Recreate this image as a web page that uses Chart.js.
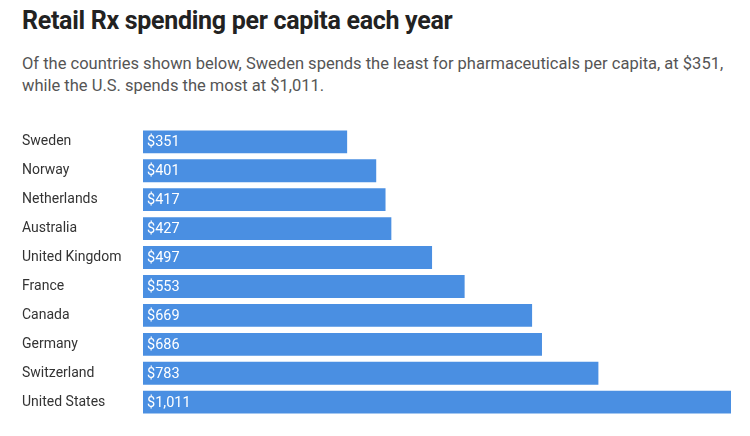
<!DOCTYPE html>
<html><head><meta charset="utf-8">
<script src="https://cdn.jsdelivr.net/npm/chart.js@4"></script>
<style>
body{margin:0;width:750px;height:436px;background:#fff;font-family:Roboto,sans-serif;position:relative;overflow:hidden}
h1{position:absolute;left:22px;top:6px;margin:0;font-size:25px;font-weight:700;color:#222;letter-spacing:-0.3px}
p{position:absolute;left:22px;top:53px;margin:0;width:720px;font-size:16.5px;line-height:22px;color:#555}
#wrap{position:absolute;left:0;top:119px;width:750px;height:306px}
</style></head><body>
<h1>Retail Rx spending per capita each year</h1>
<p>Of the countries shown below, Sweden spends the least for pharmaceuticals per capita, at $351, while the U.S. spends the most at $1,011.</p>
<div id="wrap"><canvas id="c"></canvas></div>
<script>
let countries = ["Sweden","Norway","Netherlands","Australia","United Kingdom","France","Canada","Germany","Switzerland","United States"];
let spending = [351,401,417,427,497,553,669,686,783,1011];

// 棒の左端に金額を描く
const valueLabels = {
  id: 'valueLabels',
  afterDatasetsDraw(chart){
    const ctx = chart.ctx;
    ctx.save();
    ctx.fillStyle = '#fff';
    ctx.font = '14.5px Roboto, sans-serif';
    ctx.textBaseline = 'middle';
    chart.getDatasetMeta(0).data.forEach(function(bar, i){
      ctx.fillText('$' + spending[i].toLocaleString('en-US'), bar.base + 4, bar.y + 1);
    });
    ctx.restore();
  }
};

new Chart(document.getElementById('c'), {
  type: 'bar',
  data: {
    labels: countries,
    datasets: [{ data: spending, backgroundColor: '#4a8fe2', categoryPercentage: 1, barPercentage: 0.79 }]
  },
  options: {
    indexAxis: 'y',
    responsive: true,
    maintainAspectRatio: false,
    animation: false,
    layout: { padding: { left: 22, right: 19, top: 0, bottom: 0 } },
    plugins: { legend: { display: false }, tooltip: { enabled: false } },
    scales: {
      x: { display: false, min: 0, max: 1011 },
      y: {
        grid: { display: false },
        border: { display: false },
        ticks: { crossAlign: 'far', color: '#333', font: { size: 14, family: 'Roboto' }, padding: 0 },
        afterFit: function(scale){ scale.width = 121; }
      }
    }
  },
  plugins: [valueLabels]
});
</script>
</body></html>
